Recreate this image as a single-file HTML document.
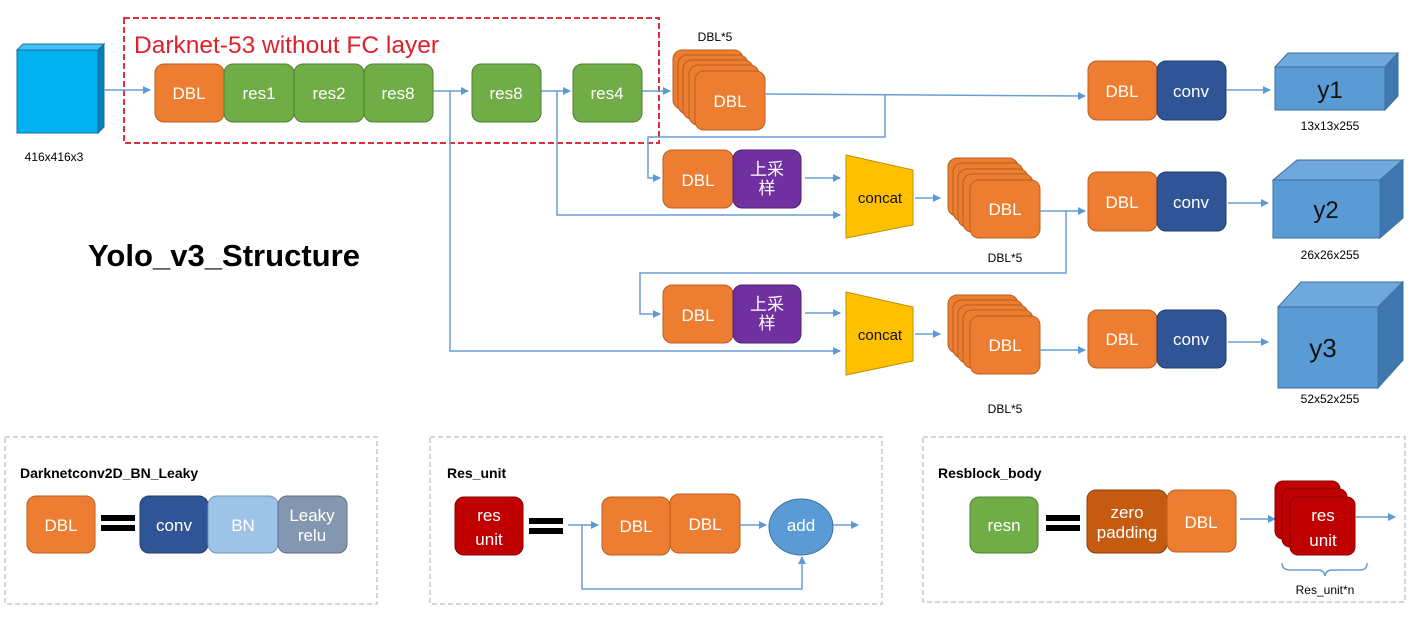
<!DOCTYPE html>
<html><head><meta charset="utf-8"><style>
body{margin:0;background:#fff;}
svg{display:block;font-family:"Liberation Sans","Noto Sans CJK SC",sans-serif;}
.w{fill:#fff;font-size:17px;text-anchor:middle;}
.k{fill:#000;font-size:12px;text-anchor:middle;}
.ln{stroke:#6a9fcf;stroke-width:1.5;fill:none;}
.o{fill:#ed7d31;stroke:#b85f20;stroke-width:1;}
.g{fill:#70ad47;stroke:#507e32;stroke-width:1;}
.p{fill:#7030a0;stroke:#4e2270;}
.b{fill:#2f5597;stroke:#203b68;}
.r{fill:#c00000;stroke:#8a0000;}
.t{font-weight:bold;font-size:14px;fill:#000;}
</style></head><body>
<svg width="1415" height="636" viewBox="0 0 1415 636">
<defs>
<marker id="a" markerWidth="8" markerHeight="8" refX="7" refY="4" orient="auto" markerUnits="userSpaceOnUse"><path d="M0,0 L8,4 L0,8 Z" fill="#5b9bd5"/></marker>
</defs>
<polygon points="17,50 23,44 104,44 98,50" fill="#3fc3f5" stroke="#1f6f9a"/>
<polygon points="98,50 104,44 104,127 98,133" fill="#0a7fb5" stroke="#1f6f9a"/>
<rect x="17" y="50" width="81" height="83" fill="#00b0f0" stroke="#1f6f9a"/>
<text x="54" y="161" class="k">416x416x3</text>
<rect x="124" y="18" width="535" height="125" fill="none" stroke="#e0303a" stroke-width="2" stroke-dasharray="6,3"/>
<text x="134" y="53" font-size="24" fill="#e0202a" textLength="305" lengthAdjust="spacingAndGlyphs">Darknet-53 without FC layer</text>
<line x1="104" y1="90" x2="150" y2="90" class="ln" marker-end="url(#a)"/>
<line x1="433" y1="91" x2="468" y2="91" class="ln" marker-end="url(#a)"/>
<line x1="541" y1="91" x2="570" y2="91" class="ln" marker-end="url(#a)"/>
<line x1="642" y1="91" x2="670" y2="91" class="ln" marker-end="url(#a)"/>
<rect x="155" y="64" width="69" height="58" rx="9" class="o"/><text x="189" y="99" class="w">DBL</text>
<rect x="224" y="64" width="70" height="58" rx="9" class="g"/><text x="259" y="99" class="w">res1</text>
<rect x="294" y="64" width="70" height="58" rx="9" class="g"/><text x="329" y="99" class="w">res2</text>
<rect x="364" y="64" width="69" height="58" rx="9" class="g"/><text x="398" y="99" class="w">res8</text>
<rect x="472" y="64" width="69" height="58" rx="9" class="g"/><text x="506" y="99" class="w">res8</text>
<rect x="573" y="64" width="69" height="58" rx="9" class="g"/><text x="607" y="99" class="w">res4</text>
<text x="715" y="41" class="k" font-size="14">DBL*5</text>
<rect x="673" y="50" width="70" height="59" rx="9" class="o"/>
<rect x="678" y="55" width="70" height="59" rx="9" class="o"/>
<rect x="683" y="60" width="70" height="59" rx="9" class="o"/>
<rect x="689" y="65" width="70" height="60" rx="9" class="o"/>
<rect x="695" y="71" width="70" height="59" rx="9" class="o"/><text x="730" y="107" class="w">DBL</text>
<polyline points="765,94 1085,96" class="ln" marker-end="url(#a)"/>
<polyline points="885,95 885,137 648,137 648,178 660,178" class="ln" marker-end="url(#a)"/>
<rect x="1088" y="61" width="69" height="59" rx="9" class="o"/><text x="1122" y="97" class="w">DBL</text>
<rect x="1157" y="61" width="69" height="59" rx="9" class="b"/><text x="1191" y="97" class="w">conv</text>
<line x1="1226" y1="90" x2="1270" y2="90" class="ln" marker-end="url(#a)"/>
<polygon points="1275,67 1288,53 1398,53 1385,67" fill="#6fa8dc" stroke="#3d6f9e"/>
<polygon points="1385,67 1398,53 1398,96 1385,110" fill="#3f78b0" stroke="#3d6f9e"/>
<rect x="1275" y="67" width="110" height="43" fill="#5b9bd5" stroke="#3d6f9e"/>
<text x="1330" y="98" text-anchor="middle" font-size="24" fill="#111">y1</text>
<text x="1330" y="130" class="k" font-size="12">13x13x255</text>
<rect x="663" y="150" width="70" height="58" rx="9" class="o"/><text x="698" y="186" class="w">DBL</text>
<rect x="733" y="150" width="68" height="58" rx="9" class="p"/>
<text x="767" y="175" class="w" font-size="14">上采</text><text x="767" y="194" class="w" font-size="14">样</text>
<line x1="805" y1="178" x2="840" y2="178" class="ln" marker-end="url(#a)"/>
<polyline points="557,91 557,215 840,215" class="ln" marker-end="url(#a)"/>
<polygon points="846,155 913,170 913,225 846,238" fill="#ffc000" stroke="#bf9000"/>
<text x="880" y="203" text-anchor="middle" font-size="15" fill="#111">concat</text>
<line x1="915" y1="198" x2="940" y2="198" class="ln" marker-end="url(#a)"/>
<rect x="948" y="158" width="70" height="58" rx="9" class="o"/>
<rect x="953" y="163" width="70" height="58" rx="9" class="o"/>
<rect x="958" y="169" width="70" height="58" rx="9" class="o"/>
<rect x="963" y="174" width="70" height="58" rx="9" class="o"/>
<rect x="970" y="180" width="70" height="58" rx="9" class="o"/><text x="1005" y="215" class="w">DBL</text>
<text x="1005" y="262" class="k" font-size="14">DBL*5</text>
<polyline points="1040,211 1085,211" class="ln" marker-end="url(#a)"/>
<polyline points="1066,211 1066,273 640,273 640,314 660,314" class="ln" marker-end="url(#a)"/>
<rect x="1088" y="172" width="69" height="59" rx="9" class="o"/><text x="1122" y="208" class="w">DBL</text>
<rect x="1157" y="172" width="69" height="59" rx="9" class="b"/><text x="1191" y="208" class="w">conv</text>
<line x1="1228" y1="203" x2="1268" y2="203" class="ln" marker-end="url(#a)"/>
<polygon points="1273,180 1297,160 1403,160 1380,180" fill="#6fa8dc" stroke="#3d6f9e"/>
<polygon points="1380,180 1403,160 1403,218 1380,238" fill="#3f78b0" stroke="#3d6f9e"/>
<rect x="1273" y="180" width="107" height="58" fill="#5b9bd5" stroke="#3d6f9e"/>
<text x="1326" y="218" text-anchor="middle" font-size="24" fill="#111">y2</text>
<text x="1330" y="259" class="k" font-size="12">26x26x255</text>
<rect x="663" y="285" width="70" height="58" rx="9" class="o"/><text x="698" y="321" class="w">DBL</text>
<rect x="733" y="285" width="68" height="58" rx="9" class="p"/>
<text x="767" y="310" class="w" font-size="14">上采</text><text x="767" y="329" class="w" font-size="14">样</text>
<line x1="805" y1="313" x2="840" y2="313" class="ln" marker-end="url(#a)"/>
<polyline points="450,91 450,351 840,351" class="ln" marker-end="url(#a)"/>
<polygon points="846,292 913,307 913,361 846,375" fill="#ffc000" stroke="#bf9000"/>
<text x="880" y="340" text-anchor="middle" font-size="15" fill="#111">concat</text>
<line x1="915" y1="334" x2="940" y2="334" class="ln" marker-end="url(#a)"/>
<rect x="948" y="295" width="70" height="58" rx="9" class="o"/>
<rect x="953" y="300" width="70" height="58" rx="9" class="o"/>
<rect x="958" y="305" width="70" height="58" rx="9" class="o"/>
<rect x="963" y="310" width="70" height="58" rx="9" class="o"/>
<rect x="970" y="316" width="70" height="58" rx="9" class="o"/><text x="1005" y="351" class="w">DBL</text>
<text x="1005" y="413" class="k" font-size="14">DBL*5</text>
<polyline points="1040,350 1085,350" class="ln" marker-end="url(#a)"/>
<rect x="1088" y="310" width="69" height="58" rx="9" class="o"/><text x="1122" y="345" class="w">DBL</text>
<rect x="1157" y="310" width="69" height="58" rx="9" class="b"/><text x="1191" y="345" class="w">conv</text>
<line x1="1228" y1="342" x2="1268" y2="342" class="ln" marker-end="url(#a)"/>
<polygon points="1278,307 1301,282 1403,282 1378,307" fill="#6fa8dc" stroke="#3d6f9e"/>
<polygon points="1378,307 1403,282 1403,360 1378,388" fill="#3f78b0" stroke="#3d6f9e"/>
<rect x="1278" y="307" width="100" height="81" fill="#5b9bd5" stroke="#3d6f9e"/>
<text x="1323" y="357" text-anchor="middle" font-size="26" fill="#111">y3</text>
<text x="1330" y="403" class="k" font-size="12">52x52x255</text>
<text x="88" y="266" font-size="31" font-weight="bold" fill="#000" textLength="272" lengthAdjust="spacingAndGlyphs">Yolo_v3_Structure</text>
<rect x="5" y="437" width="372" height="167" fill="none" stroke="#c8c8c8" stroke-width="1.5" stroke-dasharray="5,3"/>
<rect x="430" y="437" width="452" height="167" fill="none" stroke="#c8c8c8" stroke-width="1.5" stroke-dasharray="5,3"/>
<rect x="923" y="437" width="482" height="165" fill="none" stroke="#c8c8c8" stroke-width="1.5" stroke-dasharray="5,3"/>
<text x="20" y="478" class="t">Darknetconv2D_BN_Leaky</text>
<rect x="27" y="496" width="68" height="57" rx="9" class="o"/><text x="61" y="531" class="w">DBL</text>
<rect x="101" y="515" width="34" height="6" fill="#000"/><rect x="101" y="525" width="34" height="6" fill="#000"/>
<rect x="140" y="496" width="68" height="57" rx="9" class="b"/><text x="174" y="531" class="w">conv</text>
<rect x="208" y="496" width="70" height="57" rx="9" fill="#9dc3e6" stroke="#6f98c0"/><text x="243" y="531" class="w">BN</text>
<rect x="278" y="496" width="69" height="57" rx="9" fill="#8497b0" stroke="#5e6e88"/>
<text x="312" y="521" class="w" font-size="13">Leaky</text><text x="312" y="541" class="w" font-size="13">relu</text>
<text x="447" y="478" class="t">Res_unit</text>
<rect x="455" y="497" width="68" height="58" rx="9" class="r"/>
<text x="489" y="521" class="w">res</text><text x="489" y="545" class="w">unit</text>
<rect x="529" y="518" width="34" height="6" fill="#000"/><rect x="529" y="528" width="34" height="6" fill="#000"/>
<line x1="568" y1="525" x2="598" y2="525" class="ln" marker-end="url(#a)"/>
<polyline points="582,525 582,589 802,589 802,557" class="ln" marker-end="url(#a)"/>
<rect x="602" y="497" width="68" height="58" rx="9" class="o"/><text x="636" y="532" class="w">DBL</text>
<rect x="670" y="494" width="70" height="59" rx="9" class="o"/><text x="705" y="530" class="w">DBL</text>
<line x1="740" y1="525" x2="766" y2="525" class="ln" marker-end="url(#a)"/>
<ellipse cx="801" cy="527" rx="32" ry="28" fill="#5b9bd5" stroke="#3d6f9e"/>
<text x="801" y="531" class="w" font-size="12">add</text>
<line x1="833" y1="525" x2="858" y2="525" class="ln" marker-end="url(#a)"/>
<text x="938" y="478" class="t">Resblock_body</text>
<rect x="970" y="497" width="68" height="56" rx="9" class="g"/><text x="1004" y="531" class="w">resn</text>
<rect x="1046" y="515" width="34" height="6" fill="#000"/><rect x="1046" y="525" width="34" height="6" fill="#000"/>
<rect x="1087" y="490" width="80" height="63" rx="9" fill="#c55a11" stroke="#8a3e0b"/>
<text x="1127" y="518" class="w" font-size="14">zero</text><text x="1127" y="538" class="w" font-size="14">padding</text>
<rect x="1167" y="490" width="69" height="62" rx="9" class="o"/><text x="1201" y="528" class="w">DBL</text>
<line x1="1240" y1="519" x2="1275" y2="519" class="ln" marker-end="url(#a)"/>
<rect x="1275" y="481" width="65" height="58" rx="8" class="r"/>
<rect x="1282" y="489" width="65" height="58" rx="8" class="r"/>
<rect x="1290" y="497" width="65" height="58" rx="8" class="r"/>
<text x="1323" y="521" class="w">res</text><text x="1323" y="546" class="w">unit</text>
<line x1="1355" y1="517" x2="1395" y2="517" class="ln" marker-end="url(#a)"/>
<path d="M1282,563 Q1282,570 1290,570 L1318,570 Q1324,570 1325,576 Q1326,570 1332,570 L1360,570 Q1367,570 1367,563" fill="none" stroke="#6a9fcf" stroke-width="1.5"/>
<text x="1325" y="594" class="k" font-size="14">Res_unit*n</text>
</svg>
</body></html>
